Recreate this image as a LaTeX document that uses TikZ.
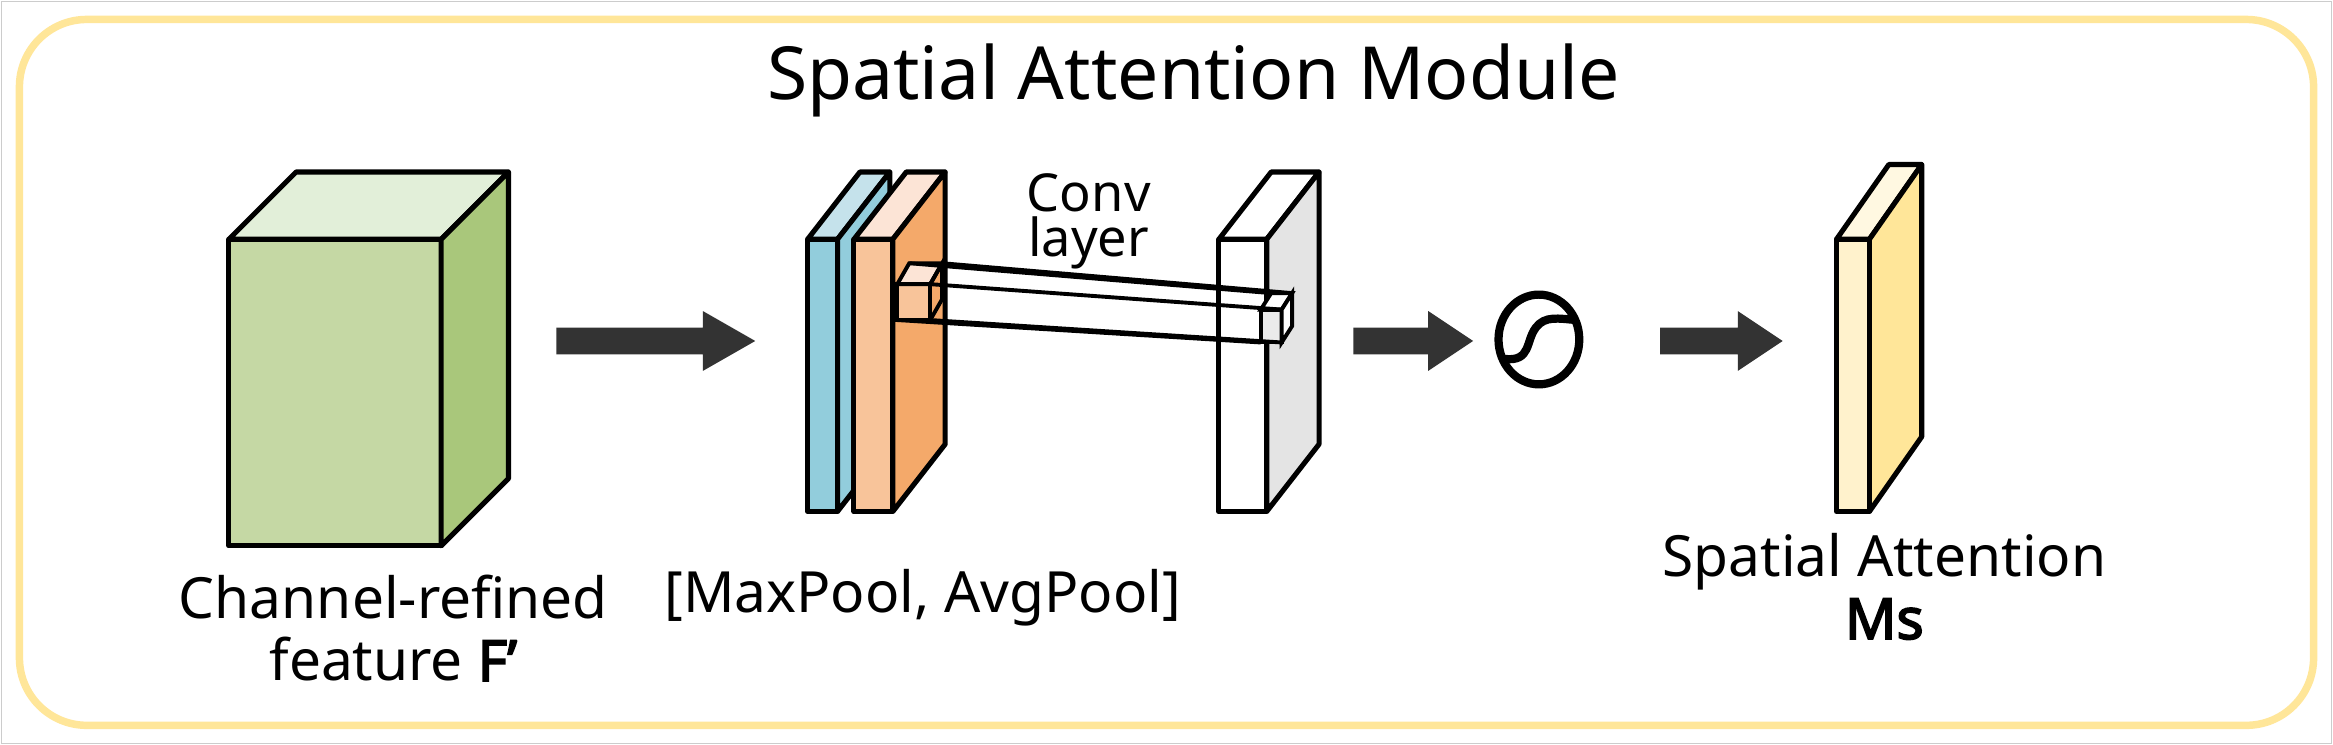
\documentclass[tikz,border=0pt]{standalone}
\usepackage{fontspec}
\usetikzlibrary{shapes.geometric}
\setmainfont{Noto Sans}
\newcommand{\fb}[1]{{\addfontfeature{FakeBold=3}#1}}
\begin{document}
\begin{tikzpicture}[x=1pt,y=-1pt,
  edge/.style={draw=black,line width=3.4pt,line join=round},
  fat/.style={fill=black!80,draw=none},
  lbl/.style={font=\fontsize{38}{42}\selectfont,align=center,inner sep=0}]
\useasboundingbox[fill=white] (0,0) rectangle (1560,498);
\draw[draw=gray!40,line width=1pt] (1,1) rectangle (1559,497);
\draw[draw={rgb,255:red,255;green,230;blue,153},line width=5pt,rounded corners=45pt] (13,13) rectangle (1547,485);
\node[font=\fontsize{49}{54}\selectfont,inner sep=0] (title) at (798,54) {Spatial Attention Module};
% green cube
\path[edge,fill={rgb,255:red,197;green,216;blue,164}] (153,160) rectangle (295,365);
\path[edge,fill={rgb,255:red,226;green,239;blue,217}] (153,160) -- (198,115) -- (340,115) -- (295,160) -- cycle;
\path[edge,fill={rgb,255:red,169;green,199;blue,123}] (295,160) -- (340,115) -- (340,320) -- (295,365) -- cycle;
% blue
\path[edge,fill={rgb,255:red,197;green,226;blue,235}] (540,160) -- (575,115) -- (595,115) -- (560,160) -- cycle;
\path[edge,fill={rgb,255:red,146;green,205;blue,220}] (560,160) -- (595,115) -- (595,297) -- (560,342) -- cycle;
\path[edge,fill={rgb,255:red,146;green,205;blue,220}] (540,160) rectangle (560,342);
% orange
\path[edge,fill={rgb,255:red,252;green,228;blue,214}] (571,160) -- (606,115) -- (632,115) -- (597,160) -- cycle;
\path[edge,fill={rgb,255:red,244;green,169;blue,106}] (597,160) -- (632,115) -- (632,297) -- (597,342) -- cycle;
\path[edge,fill={rgb,255:red,248;green,196;blue,154}] (571,160) rectangle (597,342);
% white
\path[edge,fill=white] (815,160) -- (850,115) -- (882,115) -- (847,160) -- cycle;
\path[edge,fill={rgb,255:red,228;green,228;blue,228}] (847,160) -- (882,115) -- (882,297) -- (847,342) -- cycle;
\path[edge,fill=white] (815,160) rectangle (847,342);
% conv prism
\path[draw,line width=2.6pt,fill={rgb,255:red,248;green,196;blue,154}] (600,190) rectangle (622,214);
\path[draw,line width=2.6pt,fill={rgb,255:red,252;green,228;blue,214}] (600,190) -- (608,176) -- (630,176) -- (622,190) -- cycle;
\path[draw,line width=2.6pt] (622,190) -- (630,176) -- (630,200) -- (622,214);
\path[draw,line width=2.6pt,fill={rgb,255:red,235;green,235;blue,235}] (843,207) rectangle (857,229);
\path[draw,line width=2.6pt,fill=white] (843,207) -- (850,196) -- (864,196) -- (857,207) -- cycle;
\path[draw,line width=2.6pt,fill=white] (857,207) -- (864,196) -- (864,218) -- (857,229) -- cycle;
\draw[line width=2.6pt] (608,176) -- (850,196) (630,176) -- (864,196) (622,190) -- (857,207) (622,214) -- (857,229) (600,214) -- (843,229);
% yellow
\path[edge,fill={rgb,255:red,255;green,248;blue,225}] (1228,160) -- (1263,110) -- (1285,110) -- (1250,160) -- cycle;
\path[edge,fill={rgb,255:red,255;green,230;blue,153}] (1250,160) -- (1285,110) -- (1285,292) -- (1250,342) -- cycle;
\path[edge,fill={rgb,255:red,255;green,242;blue,204}] (1228,160) rectangle (1250,342);
% arrows
\path[fat] (372,219) -- (470,219) -- (470,208) -- (505,228) -- (470,248) -- (470,237) -- (372,237) -- cycle;
\path[fat] (905,219) -- (955,219) -- (955,208) -- (985,228) -- (955,248) -- (955,237) -- (905,237) -- cycle;
\path[fat] (1110,219) -- (1162,219) -- (1162,208) -- (1192,228) -- (1162,248) -- (1162,237) -- (1110,237) -- cycle;
% sigmoid
\node[draw,line width=5.5pt,ellipse,minimum width=54pt,minimum height=60pt,inner sep=0] (sig) at (1029,227) {};
\draw[line width=5.5pt] (1006,240) .. controls (1024,242) and (1020,228) .. (1027,219) .. controls (1033,211) and (1042,213) .. (1054,214);
% texts
\node[lbl,font=\fontsize{35}{30}\selectfont] (conv) at (728,148) {Conv\\layer};
\node[lbl] (in) at (263,420) {Channel-refined\\feature \fb{F’}};
\node[lbl] (pool) at (617,400) {[MaxPool, AvgPool]};
\node[lbl] (out) at (1260,392) {Spatial Attention\\\fb{Ms}};
\end{tikzpicture}
\end{document}
